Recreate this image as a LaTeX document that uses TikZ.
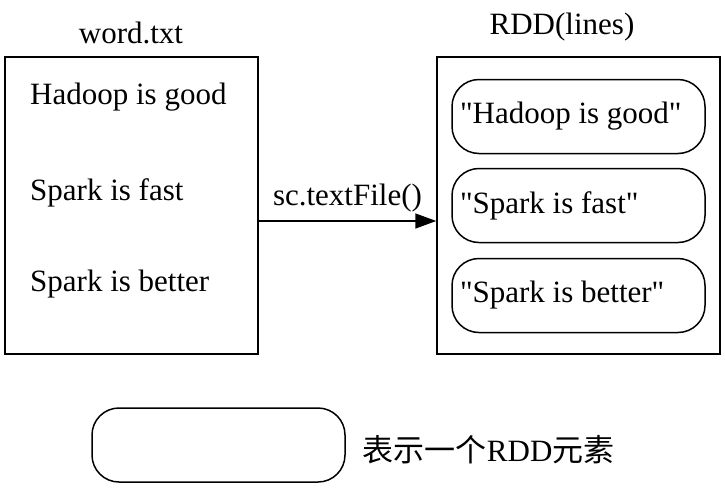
\documentclass[tikz,border=0pt]{standalone}
\usepackage{fontspec}
\setmainfont{Liberation Serif}
\newfontfamily\cjk{Noto Sans CJK SC}
\usepackage{tikz}
\usetikzlibrary{arrows.meta,positioning}

\begin{document}
\begin{tikzpicture}[
    x=1pt, y=-1pt,
    every node/.style={font=\fontsize{31}{36}\selectfont, inner sep=0pt},
    store/.style={draw, line width=1.5pt, minimum width=253pt, minimum height=297pt},
    elem/.style={draw, line width=1.5pt, rounded corners=27pt, minimum width=253pt, minimum height=74pt, text width=237pt, align=flush left},
    arrow/.style={-{Triangle[length=21pt,width=15pt]}, line width=1.5pt}
]
    \useasboundingbox (0,0) rectangle (725,488);

    % Source file
    \node[store] (file) at (131.5,205.5) {};
    \node[anchor=base] (filename) at (131,43) {word.txt};
    \node[anchor=base west] (line1) at (30,104) {Hadoop is good};
    \node[anchor=base west] (line2) at (30,200) {Spark is fast};
    \node[anchor=base west] (line3) at (30,291) {Spark is better};

    % RDD
    \node[store, minimum width=283pt] (rdd) at (578.5,205.5) {};
    \node[anchor=base] (rddname) at (562,34) {RDD(lines)};
    \node[elem] (elem1) at (578.5,116.5) {\textquotedbl Hadoop is good\textquotedbl};
    \node[elem] (elem2) at (578.5,205.5) {\textquotedbl Spark is fast\textquotedbl};
    \node[elem] (elem3) at (578.5,295.5) {\textquotedbl Spark is better\textquotedbl};

    % Arrow
    \draw[arrow] ([yshift=-15.5pt]file.east) -- node[above=8pt] {sc.textFile()} ([yshift=-15.5pt]rdd.west);

    % Legend
    \node[elem, text width=0pt] (legend) at (218.5,445) {};
    \node[right=17pt of legend, yshift=-5pt] (legendtext) {{\cjk 表示一个}RDD{\cjk 元素}};
\end{tikzpicture}
\end{document}
